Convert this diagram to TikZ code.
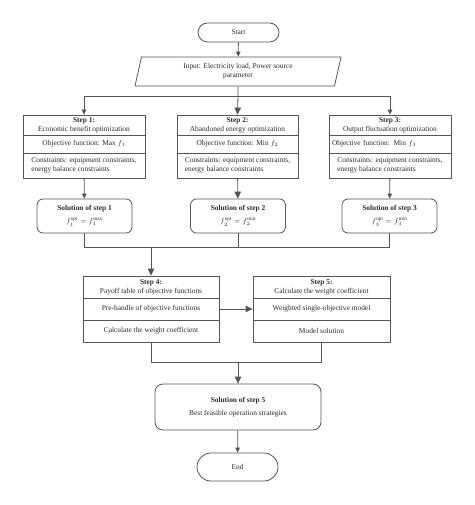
\documentclass[tikz,border=0pt]{standalone}
\usepackage{fontspec}
\setmainfont{Liberation Serif}
\usetikzlibrary{arrows.meta,shapes.geometric}
\definecolor{ln}{HTML}{555555}
\definecolor{tx}{HTML}{2A2A2A}
\tikzset{
  base/.style={draw=ln,line width=0.8pt,text=tx,font=\fontsize{7.4}{9}\selectfont,inner sep=2pt},
  sect/.style={base,rectangle,align=center},
  solbox/.style={base,rectangle,rounded corners=6pt,align=center,minimum width=95pt,minimum height=34pt},
  term/.style={base,rectangle,rounded corners=9.5pt,minimum width=81pt},
  conn/.style={draw=ln,line width=0.8pt},
  arr/.style={conn,-{Triangle[length=5pt,width=4.5pt]}},
  bigarr/.style={conn,-{Triangle[length=7pt,width=6.5pt]}}
}
\begin{document}
\begin{tikzpicture}[x=1pt,y=-1pt]
\useasboundingbox (0,0) rectangle (474,505);
% start
\node[term,minimum height=19pt] (start) at (238.5,32.5) {Start};
% input
\node[base,trapezium,trapezium left angle=67.5,trapezium right angle=112.5,trapezium stretches body,minimum width=206pt,minimum height=29pt,inner sep=0pt,align=center] (in) at (238,71.5) {Input: Electricity load, Power source\\parameter};
% step 1
\node[sect,minimum width=122pt,minimum height=20pt] (s1a) at (84,125) {\textbf{Step 1:}\\Economic benefit optimization};
\node[sect,minimum width=122pt,minimum height=18pt] (s1b) at (84,144) {Objective function: Max $f_1$};
\node[sect,minimum width=122pt,minimum height=25pt,align=left] (s1c) at (84,165.5) {Constraints: equipment constraints,\\energy balance constraints};
% step 2
\node[sect,minimum width=121pt,minimum height=20pt] (s2a) at (237.5,125) {\textbf{Step 2:}\\Abandoned energy optimization};
\node[sect,minimum width=121pt,minimum height=18pt] (s2b) at (237.5,144) {Objective function: Min $f_2$};
\node[sect,minimum width=121pt,minimum height=25pt,align=left] (s2c) at (237.5,165.5) {Constraints: equipment constraints,\\energy balance constraints};
% step 3
\node[sect,minimum width=122pt,minimum height=20pt] (s3a) at (390,125) {\textbf{Step 3:}\\Output fluctuation optimization};
\node[sect,minimum width=122pt,minimum height=18pt,text width=116pt,align=left] (s3b) at (390,144) {Objective function: Min $f_3$};
\node[sect,minimum width=122pt,minimum height=25pt,align=left] (s3c) at (390,165.5) {Constraints: equipment constraints,\\energy balance constraints};
% solutions
\node[solbox] (sol1) at (84.5,216) {\textbf{Solution of step 1}\\[4pt]$f_1^{\mathrm{opt}}=f_1^{\max}$};
\node[solbox] (sol2) at (238,216) {\textbf{Solution of step 2}\\[4pt]$f_2^{\mathrm{opt}}=f_2^{\min}$};
\node[solbox] (sol3) at (389.5,216) {\textbf{Solution of step 3}\\[4pt]$f_3^{\mathrm{opt}}=f_3^{\min}$};
% step 4
\node[sect,minimum width=136pt,minimum height=22pt] (s4a) at (151,287) {\textbf{Step 4:}\\Payoff table of objective functions};
\node[sect,minimum width=136pt,minimum height=22pt] (s4b) at (151,309) {Pre-handle of objective functions};
\node[sect,minimum width=136pt,minimum height=22pt] (s4c) at (151,331) {Calculate the weight coefficient};
% step 5
\node[sect,minimum width=137pt,minimum height=22pt] (s5a) at (321.5,287) {\textbf{Step 5:}\\Calculate the weight coefficient};
\node[sect,minimum width=137pt,minimum height=22pt] (s5b) at (321.5,309) {Weighted single-objective model};
\node[sect,minimum width=137pt,minimum height=22pt] (s5c) at (321.5,331) {Model solution};
% solution 5 and end
\node[base,rectangle,rounded corners=8pt,minimum width=166pt,minimum height=46pt,align=center] (sol5) at (238,407) {\textbf{Solution of step 5}\\[4pt]Best feasible operation strategies};
\node[term,rounded corners=14pt,minimum height=28pt] (end) at (237.5,467) {End};
% junctions
\coordinate (j1) at (238,96);
\coordinate (j2) at (151,247);
\coordinate (j3) at (238,362);
% connectors
\draw[arr] (start) -- (in);
\draw[conn] (in.south) -- (j1);
\draw[bigarr] (j1) -- (s2a.north);
\draw[arr] (j1) -| (s1a.north);
\draw[arr] (j1) -| (s3a.north);
\draw[arr] (s1c) -- (sol1);
\draw[bigarr] (s2c) -- (sol2);
\draw[arr] (s3c) -- (sol3);
\draw[conn] (sol1.south) |- (j2);
\draw[conn] (sol3.south) |- (j2);
\draw[conn] (sol2.south) -- (sol2.south |- j2);
\draw[bigarr] (j2) -- (s4a.north);
\draw[bigarr] (s4b) -- (s5b);
\draw[conn] (s4c.south) |- (j3);
\draw[conn] (s5c.south) |- (j3);
\draw[bigarr] (j3) -- (sol5.north);
\draw[arr] (sol5) -- (end);
\end{tikzpicture}
\end{document}
